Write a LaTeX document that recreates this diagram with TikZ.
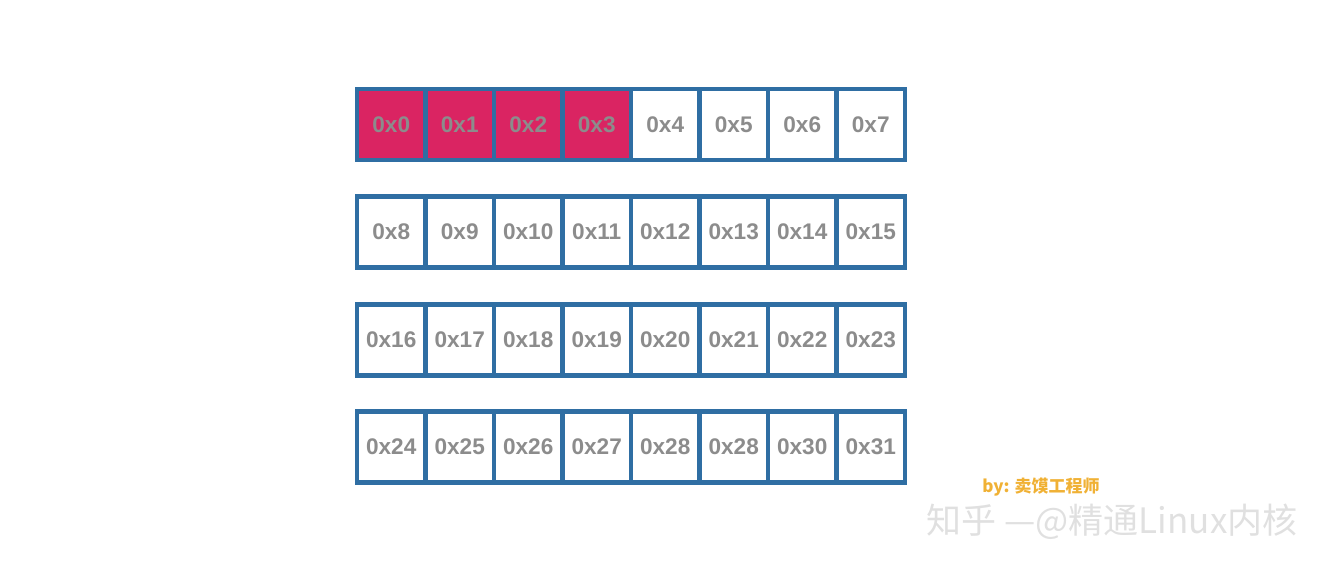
\documentclass[tikz,border=0pt]{standalone}
\usepackage{fontspec}
\setmainfont{Liberation Sans}
\newfontfamily\cjk{Noto Sans CJK SC}
\definecolor{cellblue}{HTML}{2F6EA3}
\definecolor{cellpink}{HTML}{DA2462}
\definecolor{txtgray}{HTML}{8C8C8C}
\definecolor{signy}{HTML}{F0B135}
\begin{document}
\begin{tikzpicture}[x=0.5pt,y=-0.5pt,
  cell/.style={draw=cellblue,line width=2.3pt,fill=white,minimum width=34.25pt,minimum height=35.5pt,inner sep=0pt,outer sep=0pt,text=txtgray,font=\bfseries\fontsize{11.3}{13}\selectfont},
  hot/.style={fill=cellpink}]
\useasboundingbox (0,0) rectangle (1340,580);
\foreach \r/\y in {0/124.5,1/232,2/340,3/447}{
  \foreach \c in {0,...,7}{
    \pgfmathtruncatemacro{\v}{\r*8+\c}
    \pgfmathsetmacro{\x}{391.25+\c*68.5}
    \ifnum\v=29 \def\lab{0x28}\else\def\lab{0x\v}\fi
    \ifnum\v<4
      \node[cell,hot] (c\v) at (\x,\y) {\lab};
    \else
      \node[cell] (c\v) at (\x,\y) {\lab};
    \fi
  }
}
\node[text=signy,font=\cjk\bfseries\fontsize{8.5}{10}\selectfont] (sig) at (1041,487) {by: 卖馍工程师};
\node[text=black!12,font=\cjk\fontsize{17.5}{20}\selectfont] (wm) at (1112,522) {知乎 —@精通Linux内核};
\end{tikzpicture}
\end{document}
